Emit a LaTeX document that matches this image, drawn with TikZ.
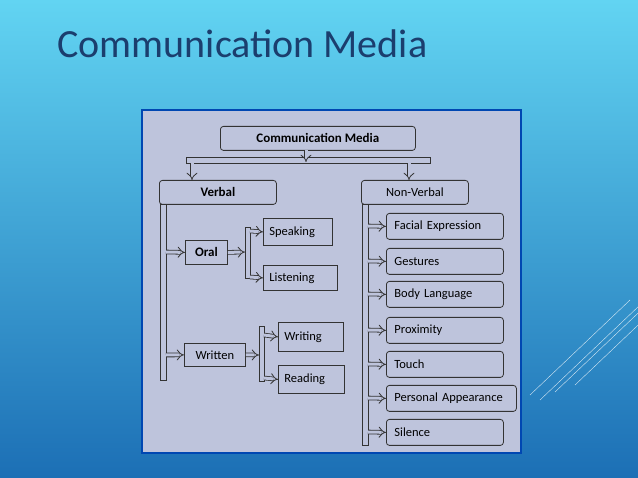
\documentclass[tikz,border=0pt]{standalone}
\usepackage{fontspec}
\setmainfont{Carlito}
\usetikzlibrary{arrows.meta}
\definecolor{panel}{HTML}{BEC4DC}
\definecolor{titleblue}{HTML}{1B3E6E}
\definecolor{bgtop}{HTML}{62D4F2}
\definecolor{bgbot}{HTML}{1C6FB5}
\tikzset{
  box/.style={draw=black!80,thick,rounded corners=3pt,fill=panel,inner sep=0pt,anchor=north west},
  plain/.style={draw=black!80,thick,fill=panel,inner sep=0pt,anchor=north west},
  bar/.style={draw=black!80,thick,fill=panel},
  hol/.style={draw=black!80,double=panel,double distance=3pt,thick,-{Implies[length=5pt]}},
  lbl/.style={font=\fontsize{12.5}{14}\selectfont,align=left},
  blbl/.style={font=\bfseries\fontsize{13}{14}\selectfont}
}
\begin{document}
\begin{tikzpicture}[x=1pt,y=-1pt]
  % background
  \shade[top color=bgtop,bottom color=bgbot] (0,0) rectangle (638,478);
  \useasboundingbox (0,0) rectangle (638,478);
  \foreach \a/\b in {530/395,540/400,555/392,575/385}
    \draw[white,opacity=0.8] (\a,\b) -- ++(100,-95);
  \node[anchor=west,text=titleblue,font=\fontsize{40}{44}\selectfont] (title) at (54,44) {Communication Media};
  \draw[draw=blue!60!cyan!70!black,fill=panel,line width=1.5pt] (142,110) rectangle (521,453);

  % top level
  \node[box,minimum width=195pt,minimum height=24pt,blbl] (cm) at (220,126) {Communication Media};
  \draw[bar] (186,157) rectangle (430,163);
  \node[box,minimum width=117pt,minimum height=24pt,blbl] (verbal) at (159,180) {Verbal};
  \node[box,minimum width=107pt,minimum height=24pt,lbl] (nonverbal) at (361,180) {Non-Verbal};
  \coordinate (t) at (306,150); \coordinate (tb) at (306,162);
  \draw[hol] (t) -- (tb);
  \draw[hol] (192,163) -- (verbal.north -| 192,0);
  \draw[hol] (409,163) -- (nonverbal.north -| 409,0);

  % verbal branch
  \draw[bar] (160,204) rectangle (166,380);
  \node[plain,minimum width=42pt,minimum height=24pt,blbl] (oral) at (185,240) {Oral};
  \node[plain,minimum width=61pt,minimum height=23pt,lbl] (written) at (184,343) {Written};
  \draw[hol] (166,252) -- (oral.west);
  \draw[hol] (166,355) -- (written.west);
  \draw[bar] (245,227) rectangle (250,278);
  \draw[bar] (259,326) rectangle (264,381);
  \draw[hol] (oral.east) -- (245,252);
  \draw[hol] (written.east) -- (259,355);
  \node[plain,minimum width=65pt,minimum height=27pt,lbl,text width=57pt,inner xsep=6pt] (speaking) at (263,218) {Speaking};
  \node[plain,minimum width=70pt,minimum height=25pt,lbl,text width=62pt,inner xsep=6pt] (listening) at (263,265) {Listening};
  \node[plain,minimum width=61pt,minimum height=29pt,lbl,text width=53pt,inner xsep=6pt] (writing) at (278,322) {Writing};
  \node[plain,minimum width=62pt,minimum height=28pt,lbl,text width=54pt,inner xsep=6pt] (reading) at (278,365) {Reading};
  \draw[hol] (250,231) -- (speaking.west);
  \draw[hol] (250,277) -- (listening.west);
  \draw[hol] (264,335) -- (writing.west);
  \draw[hol] (264,378) -- (reading.west);

  % non-verbal branch
  \draw[bar] (362,204) rectangle (368,445);
  \foreach \n/\y/\w/\t in {facial/213/117/Facial Expression,gestures/248/117/Gestures,body/281/117/Body Language,proximity/317/117/Proximity,touch/351/117/Touch,appearance/385/130/Personal Appearance,silence/419/117/Silence}{
    \node[box,minimum width=\w pt,minimum height=26pt,lbl,text width=\w pt-16pt,inner xsep=8pt] (\n) at (386,\y) {\t};
    \draw[hol] (368,\y+13) -- (\n.west);
  }
\end{tikzpicture}
\end{document}
